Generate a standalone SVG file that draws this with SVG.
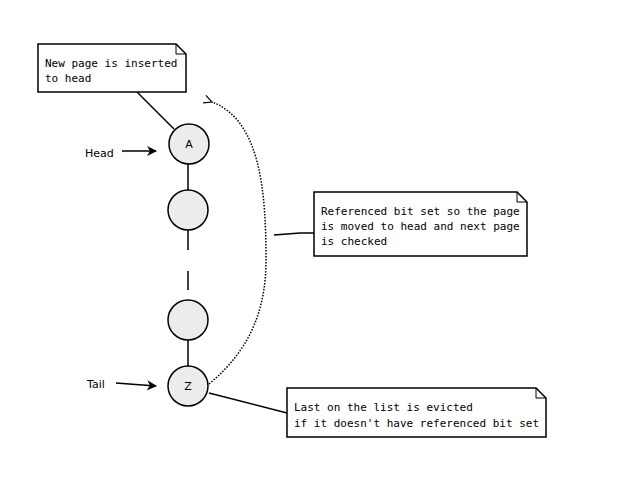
<svg xmlns="http://www.w3.org/2000/svg" width="638" height="478" viewBox="0 0 638 478">
<style>
.note{fill:#fff;stroke:#000;stroke-width:1.5}
.fold{fill:none;stroke:#000;stroke-width:1}
.nt{font-family:"DejaVu Sans Mono",monospace;font-size:11px;fill:#000}
.node{fill:#ececec;stroke:#000;stroke-width:1.5}
.nl{font-family:"DejaVu Sans",sans-serif;font-size:11px;fill:#000;text-anchor:middle}
.lbl{font-family:"DejaVu Sans",sans-serif;font-size:11px;fill:#000}
.ln{stroke:#000;stroke-width:1.5;fill:none}
</style>
<defs>
<marker id="ah" markerWidth="10" markerHeight="10" refX="9" refY="5" orient="auto" markerUnits="userSpaceOnUse"><path d="M0,0 L10,5 L0,10 L3,5 Z" fill="#000"/></marker>
<marker id="oh" markerWidth="10" markerHeight="10" refX="1" refY="5" orient="auto" markerUnits="userSpaceOnUse"><path d="M9,1 L1,5 L9,9" fill="none" stroke="#000" stroke-width="1.2"/></marker>
</defs>
<g id="connectors">
<line class="ln" x1="137" y1="92" x2="174" y2="129"/>
<line class="ln" x1="188" y1="164" x2="188" y2="190"/>
<line class="ln" x1="188" y1="230" x2="188" y2="250"/>
<line class="ln" x1="188" y1="271" x2="188" y2="290"/>
<line class="ln" x1="188" y1="340" x2="188" y2="366"/>
<line class="ln" x1="122" y1="151" x2="156" y2="151" marker-end="url(#ah)"/>
<line class="ln" x1="116" y1="383" x2="156" y2="386" marker-end="url(#ah)"/>
<path class="ln" d="M274,235 L300,233 L314,233"/>
<line class="ln" x1="209" y1="393" x2="287" y2="413"/>
<path d="M209,384 C250,350 266,310 266,260 C266,190 260,120 212,102" fill="none" stroke="#000" stroke-width="1.5" stroke-dasharray="1.5,1.5" marker-end="url(#oh)"/>
</g>
<g id="note1"><path class="note" d="M38,44 H176 L186,54 V92 H38 Z"/><path class="fold" d="M176,44 V54 H186"/>
<text class="nt" x="45" y="67">New page is inserted</text><text class="nt" x="45" y="82">to head</text></g>
<g id="note2"><path class="note" d="M314,192 H517 L527,202 V256 H314 Z"/><path class="fold" d="M517,192 V202 H527"/>
<text class="nt" x="321" y="215">Referenced bit set so the page</text><text class="nt" x="321" y="230">is moved to head and next page</text><text class="nt" x="321" y="245">is checked</text></g>
<g id="note3"><path class="note" d="M287,388 H536 L546,398 V437 H287 Z"/><path class="fold" d="M536,388 V398 H546"/>
<text class="nt" x="294" y="411">Last on the list is evicted</text><text class="nt" x="294" y="427">if it doesn't have referenced bit set</text></g>
<g id="nodeA"><circle class="node" cx="189" cy="144" r="20"/><text class="nl" x="189" y="148">A</text></g>
<g id="node2"><circle class="node" cx="188" cy="210" r="20"/></g>
<g id="node3"><circle class="node" cx="188" cy="320" r="20"/></g>
<g id="nodeZ"><circle class="node" cx="188" cy="386" r="20"/><text class="nl" x="188" y="390">Z</text></g>
<g id="head"><text class="lbl" x="85" y="157">Head</text></g>
<g id="tail"><text class="lbl" x="87" y="388">Tail</text></g>
</svg>
